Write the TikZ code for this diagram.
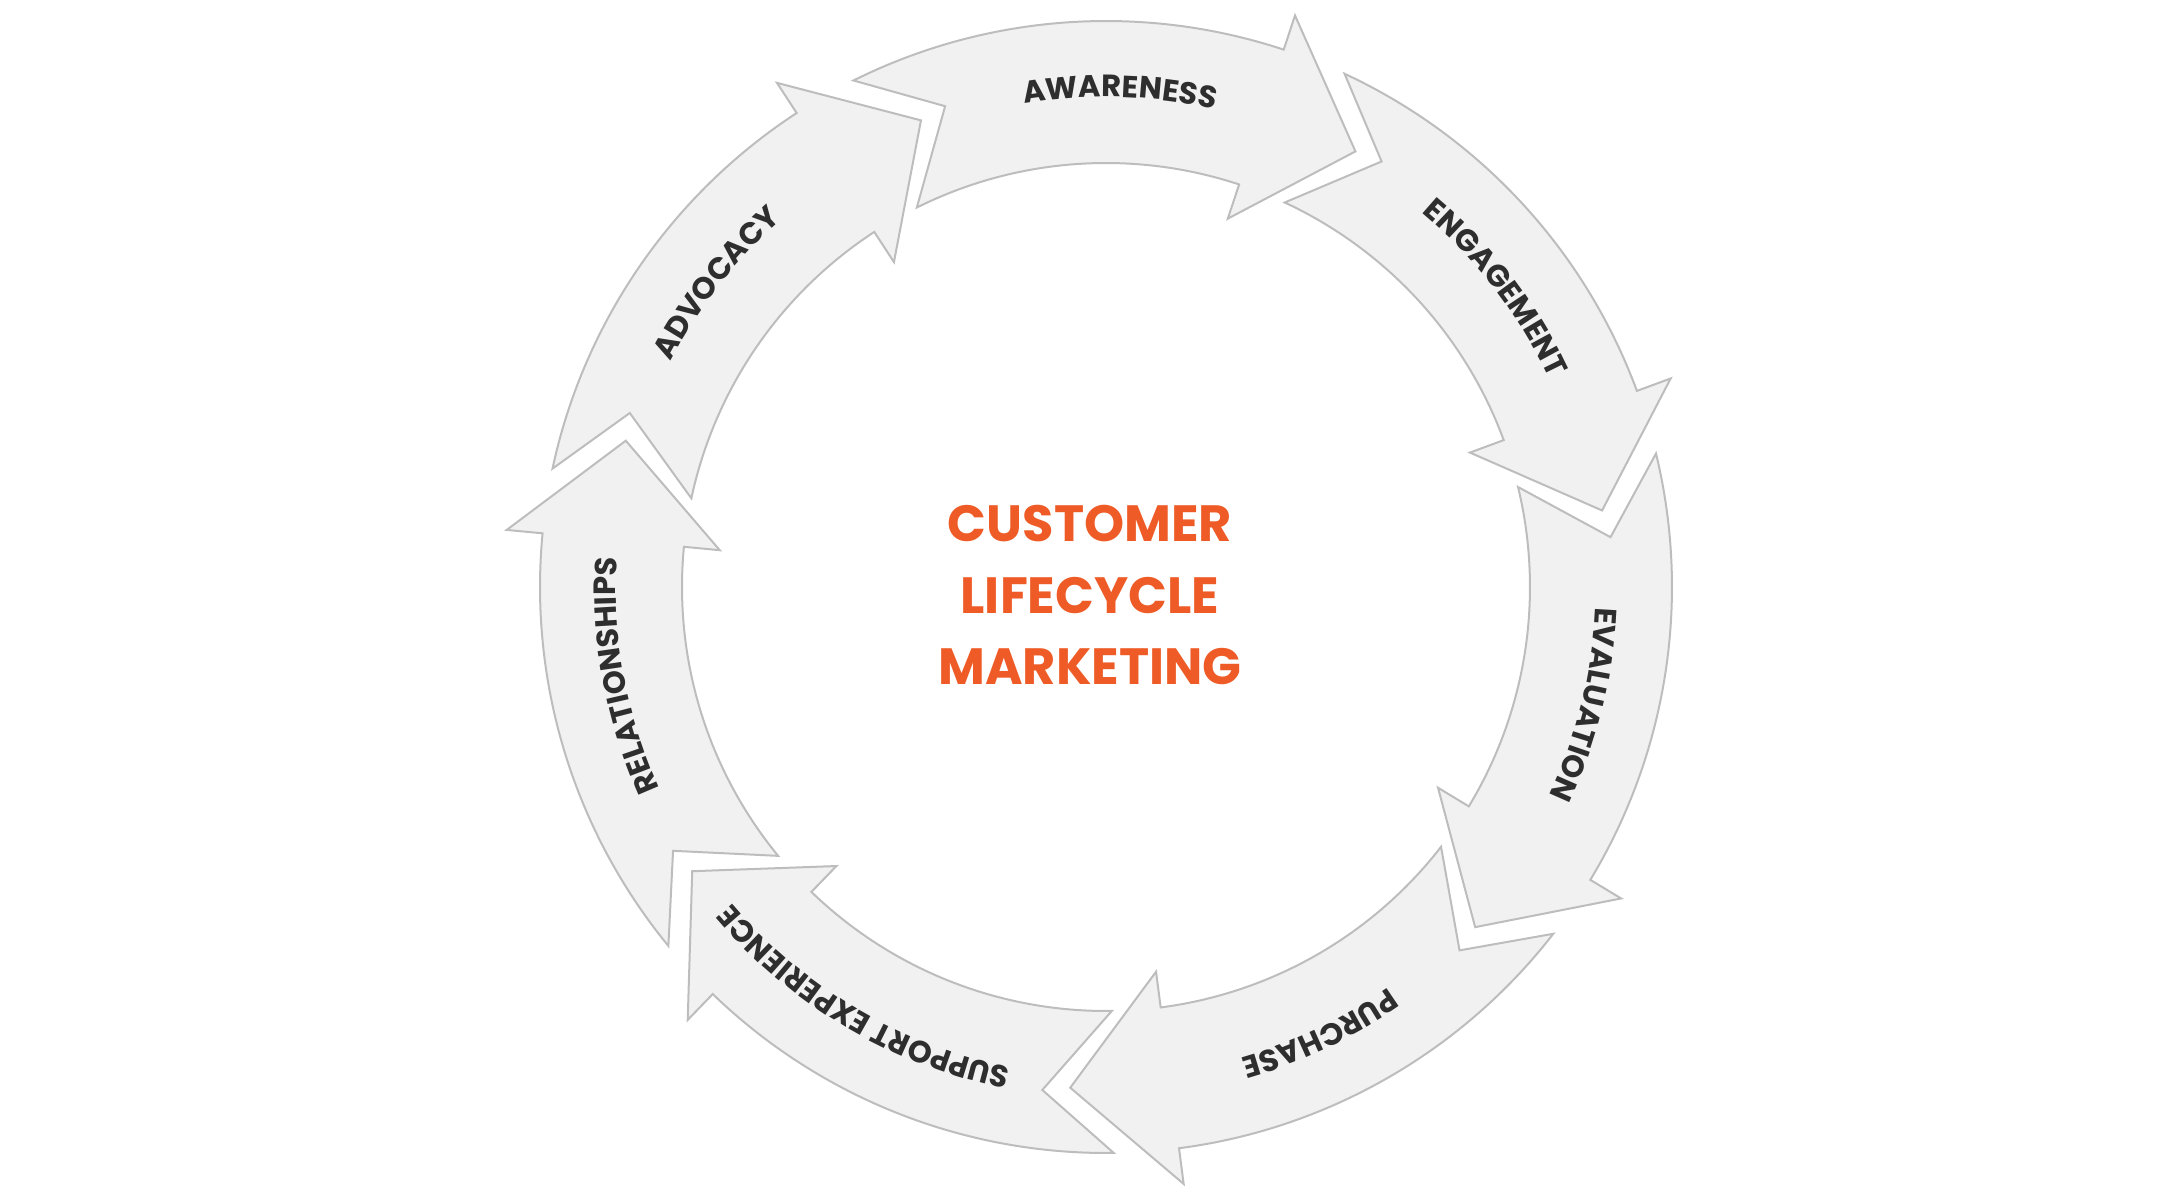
\documentclass[tikz,border=0pt]{standalone}
\usepackage{fontspec}
\setmainfont{Poppins}
\usetikzlibrary{decorations.text}
\definecolor{arrowfill}{HTML}{F1F1F1}
\definecolor{arrowline}{HTML}{BDBDBD}
\definecolor{labelcol}{HTML}{2E2E2E}
\definecolor{titlecol}{HTML}{EE5B26}
\newcommand\labfont{\fontsize{30.7}{36}\selectfont\bfseries}
\begin{document}
\begin{tikzpicture}[
  cyclearrow/.style={fill=arrowfill, draw=arrowline, line width=2pt, line join=miter},
  titletext/.style={font=\fontsize{51}{71.6}\selectfont\bfseries, text=titlecol, align=center}
]
\useasboundingbox (-1106pt,-613pt) rectangle (1074pt,587pt);
\foreach \lab/\off [count=\i from 0] in {AWARENESS/0,ENGAGEMENT/0.5,EVALUATION/0.7,PURCHASE/1.5,SUPPORT EXPERIENCE/-3.2,RELATIONSHIPS/-0.8,ADVOCACY/2.2}{
  \pgfmathsetmacro{\T}{116.5-\i*360/7}
  \pgfmathsetmacro{\N}{\T-8}
  \pgfmathsetmacro{\B}{\T-44.8}
  \pgfmathsetmacro{\P}{\T-56.3}
  \pgfmathsetmacro{\A}{\T-28.1+\off}
  \pgfmathsetmacro{\As}{\A+40}
  \pgfmathsetmacro{\Ae}{\A-40}
  \draw[cyclearrow] (\T:566pt) arc[start angle=\T, end angle=\B, radius=566pt]
     -- (\B:602pt) -- (\P:502pt) -- (\B:388pt) -- (\B:424pt)
     arc[start angle=\B, end angle=\T, radius=424pt] -- (\N:507pt) -- cycle;
  \path[decorate, decoration={text along path, text/.expanded={|\noexpand\labfont|\lab}, text align=center, text color=labelcol}]
     (\As:490pt) arc[start angle=\As, end angle=\Ae, radius=490pt];
}
\node[titletext] (title) at (-16pt,-8pt) {CUSTOMER\\LIFECYCLE\\MARKETING};
\end{tikzpicture}
\end{document}
